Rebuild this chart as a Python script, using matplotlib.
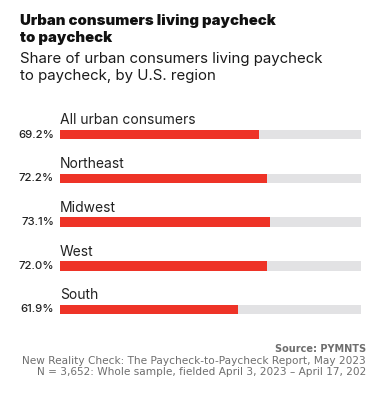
import matplotlib
matplotlib.use("Agg")
import matplotlib.pyplot as plt

categories = ["All urban consumers", "Northeast", "Midwest", "West", "South"]
values = [69.2, 72.2, 73.1, 72.0, 61.9]
value_labels = ["69.2%", "72.2%", "73.1%", "72.0%", "61.9%"]

title_lines = ["Urban consumers living paycheck", "to paycheck"]
subtitle_lines = ["Share of urban consumers living paycheck", "to paycheck, by U.S. region"]
source = "Source: PYMNTS"
notes = ["New Reality Check: The Paycheck-to-Paycheck Report, May 2023",
         "N = 3,652: Whole sample, fielded April 3, 2023 \u2013 April 17, 202"]

W, H = 381, 398
fig = plt.figure(figsize=(W / 100, H / 100), dpi=100)
fig.patch.set_facecolor("white")

RED = "#EE3327"
TRACK = "#E2E2E4"
SCALE_MAX = 104.9

ax_top, ax_bot = 100, 330
ax = fig.add_axes([60 / W, 1 - ax_bot / H, 301 / W, (ax_bot - ax_top) / H])
row0, step = 134.5, 43.75
ax.set_xlim(0, SCALE_MAX)
ax.set_ylim((ax_bot - row0) / step, (ax_top - row0) / step)
ax.axis("off")

bh = 9.5 / step
ypos = list(range(len(categories)))
ax.barh(ypos, [SCALE_MAX] * len(ypos), height=bh, color=TRACK, left=0)
ax.barh(ypos, values, height=bh, color=RED, left=0)

for i, (cat, lab) in enumerate(zip(categories, value_labels)):
    ax.text(0, i - bh / 2 - 5.5 / step, cat, ha="left", va="baseline",
            fontsize=10, color="#222222", family="Inter")
    ax.annotate(lab, xy=(0, i), xytext=(-4.3, 0), textcoords="offset points",
                ha="right", va="center", fontsize=8.2, color="#222222",
                family="Inter", fontweight="medium")

def px(y):
    return 1 - y / H

for line, base in zip(title_lines, [25, 42]):
    fig.text(20 / W, px(base), line, ha="left", va="baseline", fontsize=10.7,
             fontweight="black", family="Inter", color="#111111")
for line, base in zip(subtitle_lines, [63, 80]):
    fig.text(20 / W, px(base), line, ha="left", va="baseline", fontsize=10.8,
             family="Inter", fontweight="normal", color="#1a1a1a")

fig.text(366 / W, px(352), source, ha="right", va="baseline", fontsize=7,
         fontweight="bold", family="DejaVu Sans", color="#6e6e6e")
fig.text(366 / W, px(363.5), notes[0], ha="right", va="baseline", fontsize=7.6,
         family="DejaVu Sans", color="#6e6e6e")
fig.text(366 / W, px(375), notes[1], ha="right", va="baseline", fontsize=7.6,
         family="DejaVu Sans", color="#6e6e6e")

fig.savefig("out.png", dpi=100, facecolor="white")
